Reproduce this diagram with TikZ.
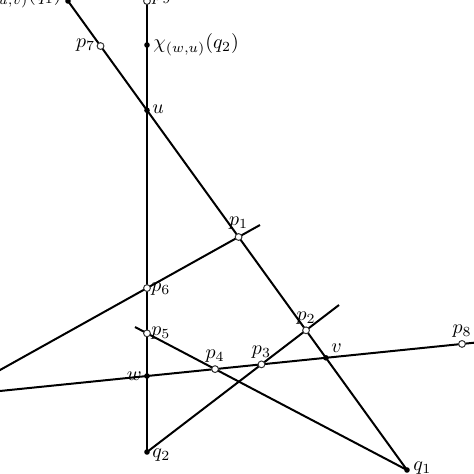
\documentclass[tikz,border=0pt]{standalone}
\usetikzlibrary{calc}
\begin{document}
\begin{tikzpicture}[x=0.5013pt,y=-0.5013pt,
  ln/.style={line width=1.0pt,black},
  fdot/.style={circle,fill=black,inner sep=0pt,minimum size=2.8pt},
  odot/.style={circle,draw=black!80,fill=white,line width=0.5pt,inner sep=0pt,minimum size=3.4pt},
  lbl/.style={inner sep=1.5pt}]
\useasboundingbox (0,0) rectangle (474,474);
% base coordinates
\coordinate (A) at (68,1);
\coordinate (Q1) at (407,470);
\coordinate (P9) at (147,1);
\coordinate (Q2) at (147,452);
\coordinate (C2) at (147,45);
\coordinate (L1) at (-10,392);
\coordinate (R1) at (484,341.7);
\coordinate (L2) at (-10,375.6);
\coordinate (E2) at (260,225);
\coordinate (E3) at (339,305);
\coordinate (S4) at (135,327);
% derived points
\coordinate (U) at (intersection of A--Q1 and P9--Q2);
\coordinate (P7) at ($(A)!0.096!(Q1)$);
\coordinate (W) at (intersection of L1--R1 and P9--Q2);
\coordinate (V) at (intersection of L1--R1 and A--Q1);
\coordinate (P8) at ($(L1)!0.9555!(R1)$);
\coordinate (P6) at (intersection of L2--E2 and P9--Q2);
\coordinate (P1) at (intersection of L2--E2 and A--Q1);
\coordinate (P2) at (intersection of Q2--E3 and A--Q1);
\coordinate (P3) at (intersection of Q2--E3 and L1--R1);
\coordinate (P5) at (intersection of S4--Q1 and P9--Q2);
\coordinate (P4) at (intersection of S4--Q1 and L1--R1);
% lines
\draw[ln] (P9) -- (Q2);
\draw[ln] (A) -- (Q1);
\draw[ln] (L1) -- (R1);
\draw[ln] (L2) -- (E2);
\draw[ln] (Q2) -- (E3);
\draw[ln] (S4) -- (Q1);
% dots
\node[fdot] (nA) at (A) {};
\node[fdot] (nQ1) at (Q1) {};
\node[fdot] (nQ2) at (Q2) {};
\node[fdot] (nC2) at (C2) {};
\node[fdot] (nU) at (U) {};
\node[fdot] (nW) at (W) {};
\node[fdot] (nV) at (V) {};
\node[odot] (nP9) at (P9) {};
\node[odot] (nP7) at (P7) {};
\node[odot] (nP8) at (P8) {};
\node[odot] (nP6) at (P6) {};
\node[odot] (nP1) at (P1) {};
\node[odot] (nP2) at (P2) {};
\node[odot] (nP3) at (P3) {};
\node[odot] (nP5) at (P5) {};
\node[odot] (nP4) at (P4) {};
% labels
\node[lbl,anchor=east] (tA) at ($(A)+(-3,-4)$) {$\chi_{(u,v)}(q_1)$};
\node[lbl,anchor=west] (tP9) at ($(P9)+(2,-3)$) {$p_9$};
\node[lbl,anchor=west] (tC2) at ($(C2)+(3,0)$) {$\chi_{(w,u)}(q_2)$};
\node[lbl,anchor=east] (tP7) at ($(P7)+(-2,-1)$) {$p_7$};
\node[lbl,anchor=west] (tU) at ($(U)+(2,-1)$) {$u$};
\node[lbl,anchor=south] (tP1) at ($(P1)+(0,-4)$) {$p_1$};
\node[lbl,anchor=west] (tP6) at ($(P6)+(1,1)$) {$p_6$};
\node[lbl,anchor=west] (tP5) at ($(P5)+(1,0)$) {$p_5$};
\node[lbl,anchor=east] (tW) at ($(W)+(-2,0)$) {$w$};
\node[lbl,anchor=south] (tP4) at ($(P4)+(0,-3)$) {$p_4$};
\node[lbl,anchor=south] (tP3) at ($(P3)+(0,-3)$) {$p_3$};
\node[lbl,anchor=south] (tP2) at ($(P2)+(0,-3)$) {$p_2$};
\node[lbl,anchor=south west] (tV) at ($(V)+(2,-2)$) {$v$};
\node[lbl,anchor=south] (tP8) at ($(P8)+(0,-3)$) {$p_8$};
\node[lbl,anchor=west] (tQ2) at ($(Q2)+(2,3)$) {$q_2$};
\node[lbl,anchor=west] (tQ1) at ($(Q1)+(3,-2)$) {$q_1$};
\end{tikzpicture}
\end{document}
